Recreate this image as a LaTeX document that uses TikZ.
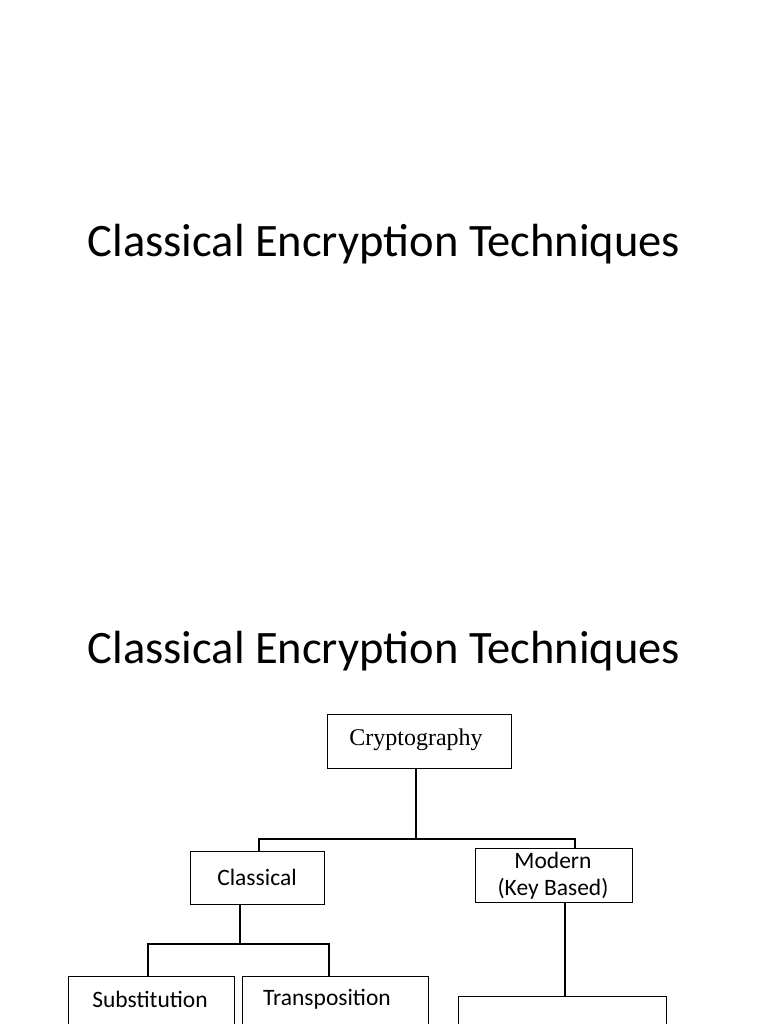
\documentclass[tikz,border=0pt]{standalone}
\usepackage{fontspec}
\setmainfont{Carlito}
\newfontfamily\serifb{Liberation Serif}
\begin{document}
\begin{tikzpicture}[x=1pt,y=-1pt,
  bx/.style={draw,line width=1.2pt,inner sep=0pt,anchor=north west},
  ln/.style={line width=1.2pt},
  lb/.style={font=\fontsize{23.5}{27}\selectfont,inner sep=0pt,align=center},
  ttl/.style={font=\fontsize{46.5}{50}\selectfont}]
\useasboundingbox (0,0) rectangle (768,1024);
\clip (0,0) rectangle (768,1024);
\node[ttl] (t1) at (384,244) {Classical Encryption Techniques};
\node[ttl] (t2) at (384,651) {Classical Encryption Techniques};
\node[bx,minimum width=184pt,minimum height=54pt] (cr) at (327,714) {};
\node[inner sep=0pt] (crt) at (416,740) {\serifb\fontsize{24}{26}\selectfont Cryptography};
\node[bx,minimum width=134pt,minimum height=53pt] (cl) at (190,851) {};
\node[lb] (clt) at (257,877) {Classical};
\node[bx,minimum width=157pt,minimum height=54pt] (mo) at (475,848) {};
\node[lb] (mot) at (553,876) {Modern\\(Key Based)};
\node[bx,minimum width=166pt,minimum height=70pt] (su) at (68,976) {};
\node[lb] (sut) at (150,999) {Substitution};
\node[bx,minimum width=186pt,minimum height=70pt] (tr) at (242,976) {};
\node[lb] (trt) at (327,999) {Transposition};
\node[bx,minimum width=208pt,minimum height=60pt] (bt) at (458,996) {};
\coordinate (j1) at (416,839);
\coordinate (j2) at (240,944);
\draw[ln] (cr.south -| j1) -- (j1);
\draw[ln] (cl.north -| 259,0) -- (259,839) -- (575,839) -- (mo.north -| 575,0);
\draw[ln] (cl.south -| j2) -- (j2);
\draw[ln] (su.north -| 148,0) -- (148,944) -- (329,944) -- (tr.north -| 329,0);
\draw[ln] (mo.south -| 565,0) -- (bt.north -| 565,0);
\end{tikzpicture}
\end{document}
